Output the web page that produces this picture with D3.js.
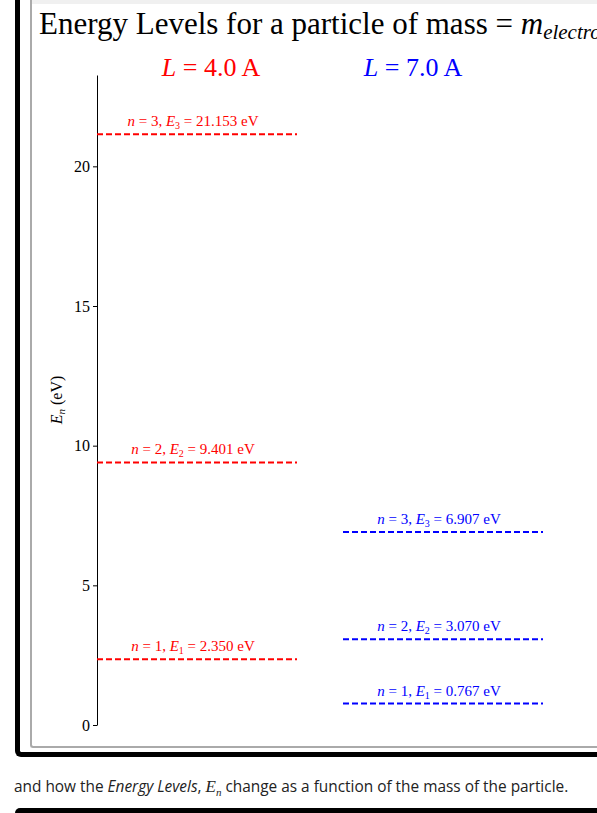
<!DOCTYPE html>
<html lang="en">
<head>
<meta charset="UTF-8">
<script src="https://d3js.org/d3.v7.min.js"></script>
<style>
  body { margin: 0; background: #fff; width: 597px; height: 813px; overflow: hidden; position: relative; }
  .frame { position: absolute; left: 15px; top: -10px; width: 700px; height: 767px; border: 5px solid #000; border-right: none; border-radius: 6px; box-sizing: border-box; }
  .inner { position: absolute; left: 30px; top: -10px; width: 700px; height: 758px; border: 2px solid #aaa; border-right: none; border-radius: 3px; box-sizing: border-box; }
  .strip { position: absolute; left: 32px; top: 0; width: 600px; height: 4px; background: #f0f0f0; }
  .caption { position: absolute; left: 14px; top: 776px; font: 15.4px "Open Sans", sans-serif; color: #222; }
  .bottom { position: absolute; left: 15px; top: 808px; width: 700px; height: 10px; background: #000; border-radius: 5px; }
  svg { position: absolute; left: 0; top: 0; }
  text { font-family: "Liberation Serif", "DejaVu Serif", serif; }
</style>
</head>
<body>
<div class="frame"></div>
<div class="inner"></div>
<div class="strip"></div>
<div class="caption">and how the <i>Energy Levels</i>, <i style="font-family:'Liberation Serif',serif;font-size:17px">E<sub style="font-size:11px">n</sub></i> change as a function of the mass of the particle.</div>
<div class="bottom"></div>
<svg id="chart" width="597" height="813"></svg>
<script>
const boxLengths = ["4.0", "7.0"];
const boxColors = ["red", "blue"];
const titleShift = [14, -30];
const levelN = [1, 2, 3];
const energies = [
  [2.350, 9.401, 21.153],
  [0.767, 3.070, 6.907]
];
const yTicks = [0, 5, 10, 15, 20];

const svg = d3.select("#chart");
const y = d3.scaleLinear().domain([0, 23.27]).range([725, 75]);
const x = d3.scaleBand().domain(boxLengths).range([97, 543]).paddingInner(46 / 246).paddingOuter(0);

svg.append("text").attr("x", 39).attr("y", 34).attr("font-size", 31)
  .html('Energy Levels for a particle of mass = <tspan font-style="italic">m</tspan><tspan font-style="italic" font-size="21" dy="5">electron</tspan>');

const axis = svg.append("g").attr("transform", "translate(97,0)")
  .call(d3.axisLeft(y).tickValues(yTicks).tickSize(4).tickSizeOuter(0));
axis.select(".domain").attr("stroke", "#000");
axis.selectAll("text").attr("font-family", "Liberation Serif, serif").attr("font-size", 16).attr("fill", "#000");

svg.append("text").attr("transform", "translate(62,400) rotate(-90)").attr("text-anchor", "middle")
  .attr("font-size", 16).html('<tspan font-style="italic">E</tspan><tspan font-style="italic" font-size="11" dy="3">n</tspan><tspan dy="-3"> (eV)</tspan>');

boxLengths.forEach((L, i) => {
  const col = boxColors[i];
  const x0 = x(L), w = x.bandwidth(), cx = x0 + w / 2;
  svg.append("text").attr("x", cx + titleShift[i]).attr("y", 76).attr("text-anchor", "middle")
    .attr("font-size", 26).attr("fill", col)
    .html(`<tspan font-style="italic">L</tspan> = ${L} A`);
  const g = svg.append("g");
  g.selectAll("line").data(energies[i]).join("line")
    .attr("x1", x0).attr("x2", x0 + w)
    .attr("y1", d => y(d)).attr("y2", d => y(d))
    .attr("stroke", col).attr("stroke-width", 2).attr("stroke-dasharray", "6,3");
  g.selectAll("text").data(energies[i]).join("text")
    .attr("x", cx - 4).attr("y", d => y(d) - 8).attr("text-anchor", "middle")
    .attr("font-size", 15).attr("fill", col)
    .html((d, k) => `<tspan font-style="italic">n</tspan> = ${levelN[k]}, <tspan font-style="italic">E</tspan><tspan font-size="10" dy="3">${levelN[k]}</tspan><tspan dy="-3"> = ${d.toFixed(3)} eV</tspan>`);
});
</script>
</body>
</html>
